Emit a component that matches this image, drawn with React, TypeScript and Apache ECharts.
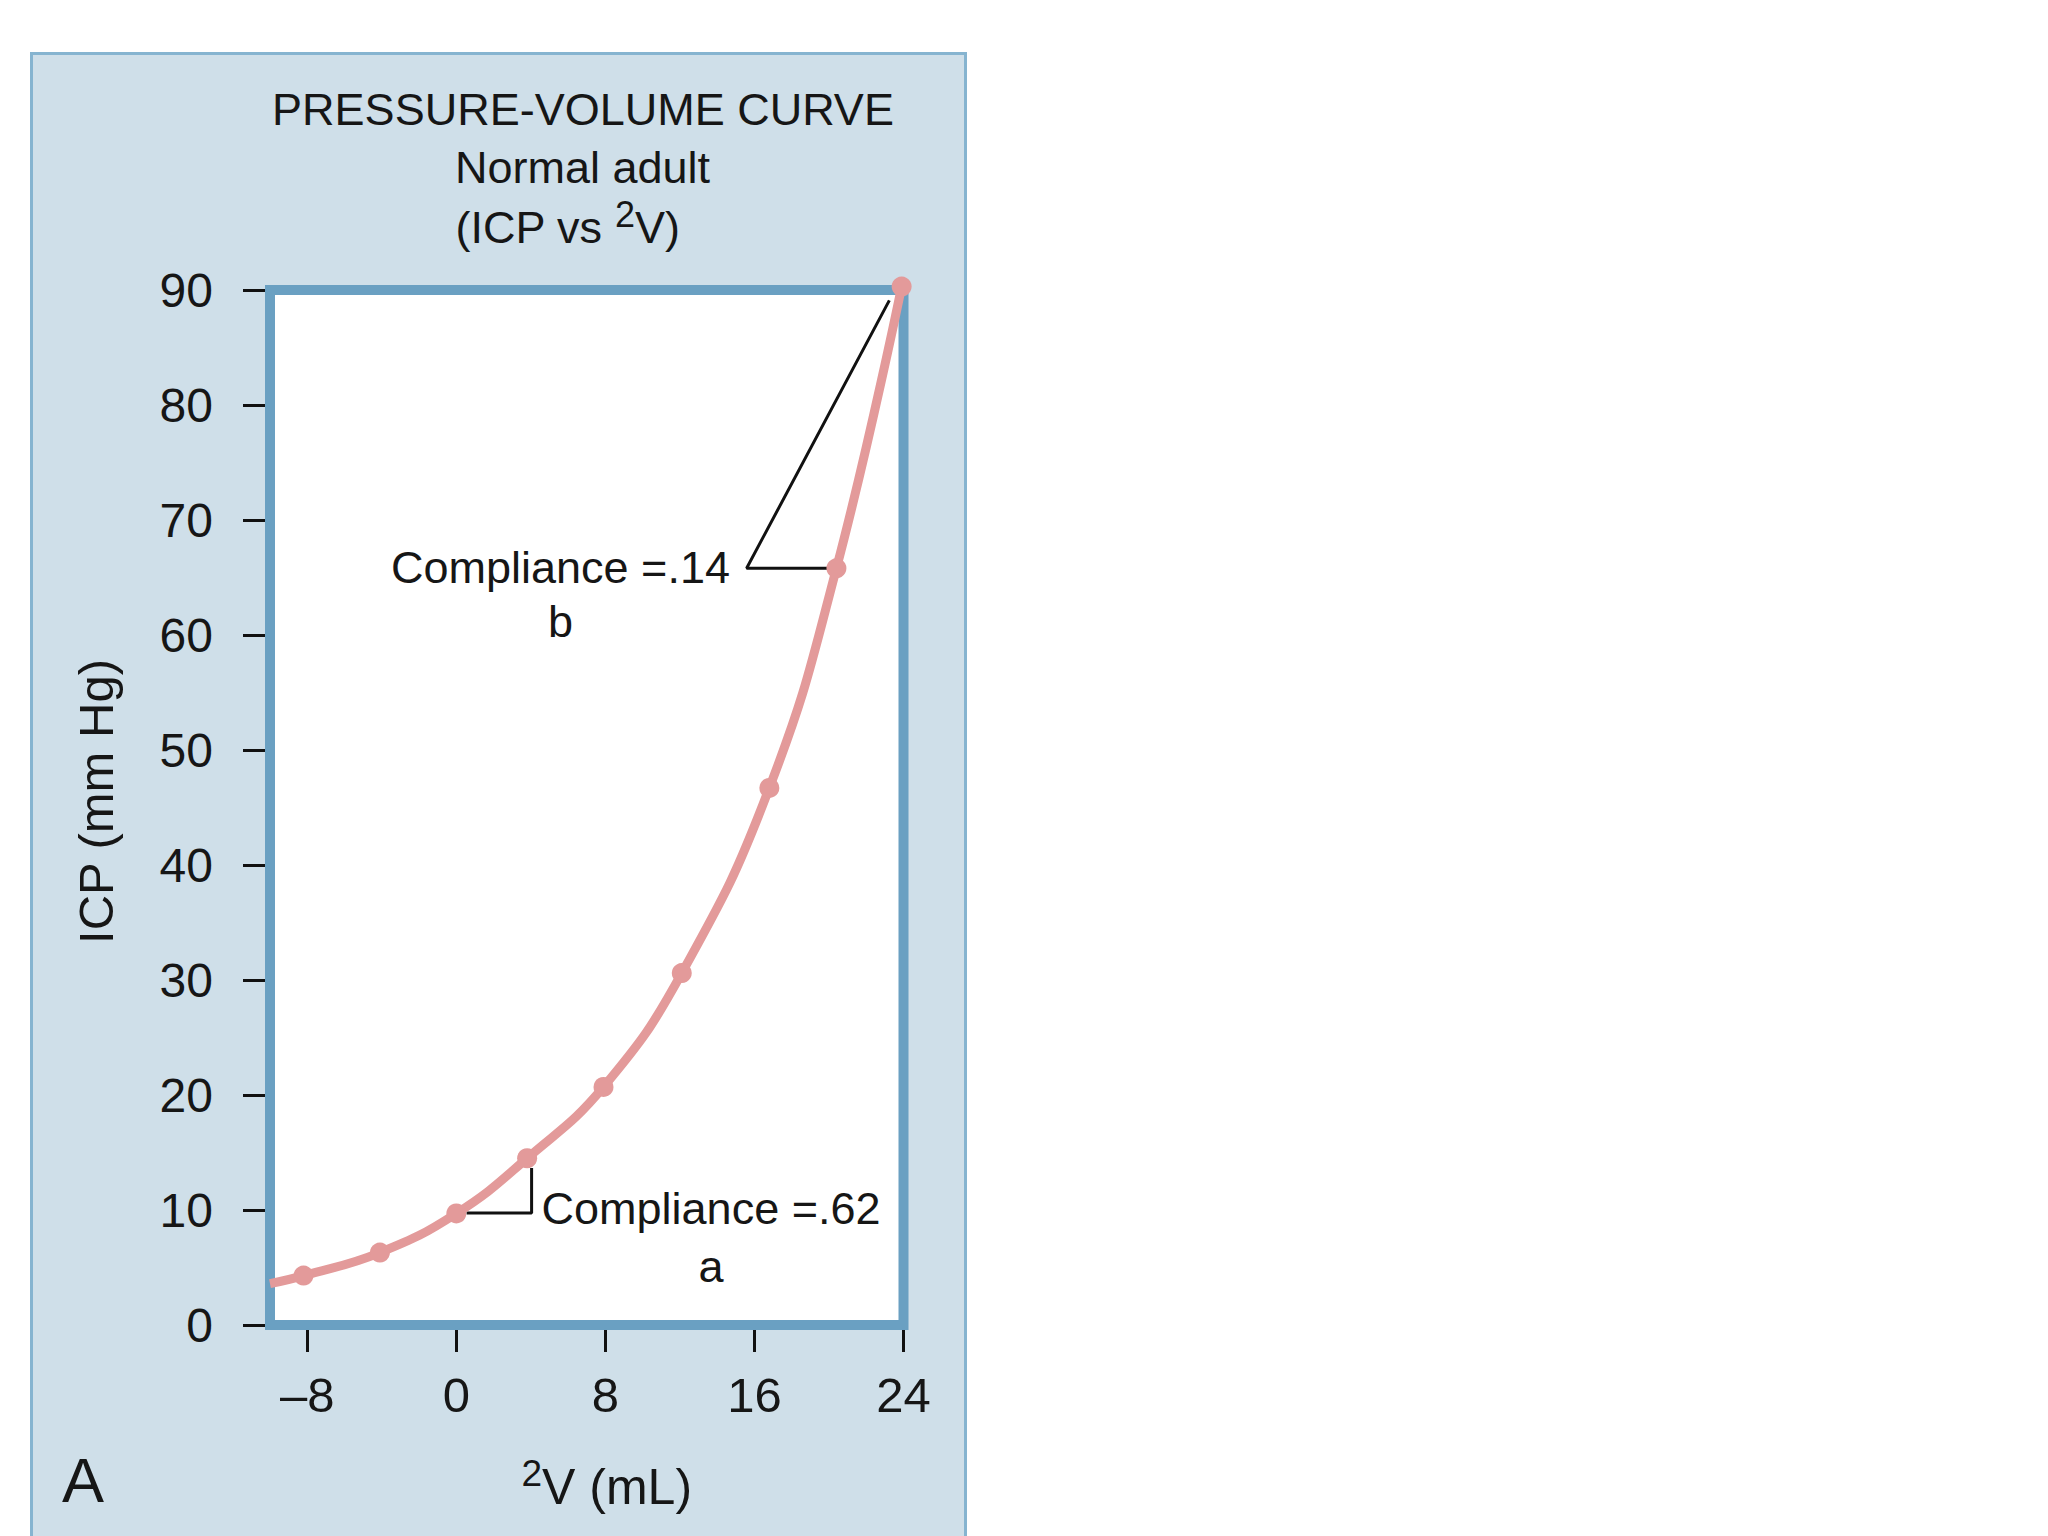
import React, { useEffect, useRef } from "react";
import * as echarts from "echarts";

// ---- data ----
const titleMain = "PRESSURE-VOLUME CURVE";
const titleSub = "Normal adult";
const titleAxes = ["(ICP vs ", "2", "V)"];
const panelTag = "A";

const volumeML = [-10, -8.2, -4.1, 0, 3.8, 7.9, 12.1, 16.8, 20.4, 23.9];
const icpMmHg = [3.6, 4.3, 6.3, 9.7, 14.5, 20.7, 30.6, 46.7, 65.8, 90.3];
const pointShown = [false, true, true, true, true, true, true, true, true, true];

const xTickValues = [-8, 0, 8, 16, 24];

const complianceALegX = [0.55, 4.04, 4.04];
const complianceALegY = [9.74, 9.74, 13.65];
const complianceBLegX = [20.15, 15.58, 23.24];
const complianceBLegY = [65.8, 65.8, 89.1];

// annotation text anchored (first line centre) in data units
const annotationText = ["Compliance =.62\na", "Compliance =.14\nb"];
const annotationX = [13.67, 5.59];
const annotationY = [10.17, 65.83];
const annotationLineGap = [58, 54];

const FONT = "Liberation Sans, Arial, Helvetica, sans-serif";
const INK = "#161616";
const CURVE = "#e39a9a";
const FRAME = "#6aa0c2";

export default function App() {
  const ref = useRef<HTMLDivElement>(null);

  useEffect(() => {
    if (!ref.current) return;
    const chart = echarts.init(ref.current, undefined, { renderer: "svg" });

    const curveData = volumeML.map((x, i) =>
      pointShown[i] ? [x, icpMmHg[i]] : { value: [x, icpMmHg[i]], symbol: "none" }
    );
    const legA = complianceALegX.map((x, i) => [x, complianceALegY[i]]);
    const legB = complianceBLegX.map((x, i) => [x, complianceBLegY[i]]);

    const baseGraphic: any[] = [
      {
        id: "t1",
        type: "text",
        x: 583,
        y: 109,
        style: { text: titleMain, fontSize: 45, fontFamily: FONT, fill: INK, align: "center", verticalAlign: "middle" },
      },
      {
        id: "t2",
        type: "text",
        x: 582.5,
        y: 167,
        style: { text: titleSub, fontSize: 45, fontFamily: FONT, fill: INK, align: "center", verticalAlign: "middle" },
      },
      {
        id: "t3",
        type: "text",
        x: 567.5,
        y: 227,
        style: {
          text: `{b|${titleAxes[0]}}{s|${titleAxes[1]}}{b|${titleAxes[2]}}`,
          align: "center",
          verticalAlign: "middle",
          fill: INK,
          rich: {
            s: { fontSize: 36, lineHeight: 36, verticalAlign: "top", fontFamily: FONT, fill: INK },
            b: { fontSize: 45, lineHeight: 62, fontFamily: FONT, fill: INK },
          },
        },
      },
      {
        id: "tag",
        type: "text",
        x: 83,
        y: 1480,
        style: { text: panelTag, fontSize: 63, fontFamily: FONT, fill: INK, align: "center", verticalAlign: "middle" },
      },
    ];

    const option: any = {
      animation: false,
      grid: {
        left: 270,
        top: 290,
        width: 633.5,
        height: 1035,
        show: true,
        backgroundColor: "#ffffff",
        borderColor: FRAME,
        borderWidth: 10,
      },
      xAxis: {
        type: "value",
        min: -10,
        max: 24,
        offset: 5,
        axisLine: { show: false, onZero: false },
        axisTick: {
          show: true,
          length: 22,
          customValues: xTickValues,
          lineStyle: { color: "#111", width: 3 },
        },
        axisLabel: {
          customValues: xTickValues,
          margin: 40,
          fontSize: 49,
          fontFamily: FONT,
          color: INK,
          formatter: (v: number) => (v < 0 ? "\u2013" + Math.abs(v) : String(v)),
        },
        splitLine: { show: false },
        name: "{s|2}{b|V (mL)}",
        nameLocation: "middle",
        nameGap: 125,
        nameTextStyle: {
          padding: [0, 0, 0, 40],
          rich: {
            s: { fontSize: 37, lineHeight: 37, verticalAlign: "top", fontFamily: FONT, color: INK },
            b: { fontSize: 50, lineHeight: 64, fontFamily: FONT, color: INK },
          },
        },
      },
      yAxis: {
        type: "value",
        min: 0,
        max: 90,
        interval: 10,
        offset: 5,
        axisLine: { show: false, onZero: false },
        axisTick: { show: true, length: 22, lineStyle: { color: "#111", width: 3 } },
        axisLabel: { margin: 52, fontSize: 48, fontFamily: FONT, color: INK },
        splitLine: { show: false },
        name: "ICP (mm Hg)",
        nameLocation: "middle",
        nameGap: 145,
        nameTextStyle: { fontSize: 49, fontFamily: FONT, color: INK, padding: [0, 0, 0, 12] },
      },
      series: [
        {
          type: "line",
          data: legA,
          symbol: "none",
          lineStyle: { color: "#111", width: 3 },
          silent: true,
          z: 3,
        },
        {
          type: "line",
          data: legB,
          symbol: "none",
          lineStyle: { color: "#111", width: 3 },
          silent: true,
          z: 3,
        },
        {
          type: "line",
          data: curveData,
          smooth: 0.45,
          clip: false,
          symbol: "circle",
          symbolSize: 20,
          showSymbol: true,
          itemStyle: { color: CURVE },
          lineStyle: { color: CURVE, width: 9 },
          z: 4,
        },
      ],
      graphic: baseGraphic,
    };

    chart.setOption(option);

    // annotation texts, placed through the chart's own scales
    const notes = annotationText.map((txt, i) => {
      const p = chart.convertToPixel({ gridIndex: 0 }, [annotationX[i], annotationY[i]]) as number[];
      const gap = annotationLineGap[i];
      return {
        id: "note" + i,
        type: "text",
        x: p[0],
        y: p[1] + gap / 2,
        z: 10,
        style: {
          text: txt,
          fontSize: 45,
          lineHeight: gap,
          fontFamily: FONT,
          fill: INK,
          align: "center",
          verticalAlign: "middle",
        },
      };
    });
    chart.setOption({ graphic: [...baseGraphic, ...notes] });

    return () => chart.dispose();
  }, []);

  return (
    <div style={{ position: "fixed", left: 0, top: 0, width: 2048, height: 1536, background: "#ffffff", overflow: "hidden" }}>
      <div
        style={{
          position: "absolute",
          left: 30,
          top: 52,
          width: 937,
          height: 1520,
          background: "#cfdfe9",
          border: "3px solid #86b4d0",
          boxSizing: "border-box",
        }}
      />
      <div ref={ref} style={{ position: "absolute", left: 0, top: 0, width: 2048, height: 1536 }} />
    </div>
  );
}
